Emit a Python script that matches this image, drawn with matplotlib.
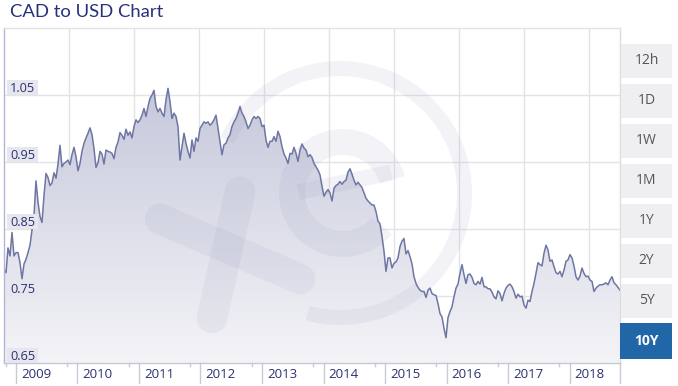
import matplotlib
matplotlib.use("Agg")
import matplotlib.pyplot as plt
import matplotlib.dates as mdates
import matplotlib.transforms as mtransforms
from matplotlib.colors import LinearSegmentedColormap
from matplotlib.lines import Line2D
from matplotlib.patches import Rectangle, Wedge
import numpy as np
import pandas as pd

# CAD -> USD, roughly every 12 days, Oct 2008 .. Oct 2018
start_date = "2008-10-22"
end_date = "2018-10-26"
cad_usd = [
    0.790, 0.785, 0.822, 0.810, 0.845, 0.810, 0.815, 0.815, 0.800, 0.776,
    0.798, 0.805, 0.815, 0.826, 0.849, 0.870, 0.922, 0.890, 0.869, 0.860,
    0.900, 0.933, 0.927, 0.915, 0.919, 0.934, 0.926, 0.947, 0.975, 0.943,
    0.948, 0.950, 0.953, 0.946, 0.961, 0.972, 0.958, 0.937, 0.948, 0.966,
    0.978, 0.986, 0.993, 1.001, 0.991, 0.970, 0.942, 0.949, 0.966, 0.962,
    0.947, 0.968, 0.966, 0.965, 0.963, 0.955, 0.972, 0.980, 0.994, 0.990,
    0.984, 0.999, 0.990, 0.995,
    0.986, 1.003, 1.013, 1.009, 1.013, 1.020, 1.030, 1.018, 1.033, 1.045,
    1.050, 1.057, 1.033, 1.025, 1.030, 1.023, 1.018, 1.043, 1.060, 1.040,
    1.015, 1.023, 1.018, 1.003, 0.953, 0.973, 0.993, 0.978, 0.966, 0.956,
    0.983, 0.966, 0.986, 0.981, 1.000, 1.005, 1.010, 1.008, 1.010, 1.005,
    1.008, 1.013, 1.020, 1.000, 0.981, 0.961, 0.976, 0.978, 0.986, 0.991,
    1.003, 1.010, 1.015, 1.023, 1.033, 1.023, 1.018, 1.010, 1.000, 1.005,
    1.013, 1.018,
    1.015, 1.018, 1.015, 1.003, 1.005, 0.983, 0.972, 0.981, 0.981, 0.988,
    0.981, 0.996, 0.988, 0.973, 0.962, 0.956, 0.948, 0.963, 0.962, 0.972,
    0.963, 0.951, 0.968, 0.977, 0.971, 0.968, 0.958, 0.961, 0.957, 0.948,
    0.943, 0.938, 0.931, 0.914, 0.899, 0.905, 0.909, 0.904, 0.892, 0.911,
    0.915, 0.917, 0.921, 0.917, 0.921, 0.923, 0.935, 0.940, 0.932, 0.923,
    0.916, 0.920, 0.916, 0.912, 0.904, 0.896, 0.892, 0.889, 0.886, 0.886,
    0.876, 0.862, 0.858,
    0.839, 0.817, 0.787, 0.807, 0.807, 0.792, 0.799, 0.801, 0.807, 0.824,
    0.832, 0.836, 0.813, 0.818, 0.809, 0.798, 0.779, 0.769, 0.763, 0.759,
    0.757, 0.757, 0.748, 0.759, 0.762, 0.754, 0.752, 0.751, 0.739, 0.724,
    0.719, 0.702, 0.688, 0.718, 0.727, 0.734, 0.749, 0.762, 0.768, 0.784,
    0.797, 0.782, 0.769, 0.782, 0.783, 0.778, 0.769, 0.767, 0.772, 0.768,
    0.778, 0.764, 0.764, 0.761, 0.761, 0.756, 0.749, 0.746, 0.758, 0.754,
    0.743, 0.754,
    0.762, 0.766, 0.768, 0.764, 0.757, 0.747, 0.753, 0.749, 0.750, 0.737,
    0.732, 0.744, 0.742, 0.757, 0.769, 0.784, 0.800, 0.797, 0.795, 0.814,
    0.826, 0.819, 0.802, 0.804, 0.794, 0.785, 0.783, 0.787, 0.779, 0.789,
    0.802, 0.804, 0.812, 0.807, 0.795, 0.779, 0.774, 0.780, 0.792, 0.784,
    0.779, 0.780, 0.774, 0.772, 0.757, 0.762, 0.765, 0.767, 0.767, 0.768,
    0.770, 0.767, 0.774, 0.779, 0.770, 0.767, 0.763, 0.759,
]
years = list(range(2009, 2019))
y_ticks = [0.65, 0.75, 0.85, 0.95, 1.05]
y_min, y_max = 0.65, 1.15
ranges = ["12h", "1D", "1W", "1M", "1Y", "2Y", "5Y", "10Y"]
active_range = "10Y"

W, H = 678, 386
LABEL_FONT = "Open Sans"
NAVY = "#2c3170"

dates = pd.date_range(start_date, end_date, periods=len(cad_usd))
x0, x1 = mdates.date2num(dates[0]), mdates.date2num(dates[-1])

fig = plt.figure(figsize=(W / 100, H / 100), dpi=100)
fig.patch.set_facecolor("white")
# pixel coords, origin top-left
pix = mtransforms.Affine2D().scale(1 / W, -1 / H).translate(0, 1) + fig.transFigure

ax_left, ax_right, ax_top, ax_bottom = 4, 620, 28, 363.2
ax = fig.add_axes([ax_left / W, (H - ax_bottom) / H,
                   (ax_right - ax_left) / W, (ax_bottom - ax_top) / H])
ax_w = ax_right - ax_left
ax_h = ax_bottom - ax_top
px_per_unit = ax_h / (y_max - y_min)

ax.set_facecolor("white")
ax.set_xticks([])
ax.set_yticks([])
for side, col in [("left", "#b3b6d3"), ("bottom", "#c5c7d9"),
                  ("top", "#e3e3e6"), ("right", "#dcdce0")]:
    ax.spines[side].set_color(col)
    ax.spines[side].set_linewidth(1)

# grid
for v in y_ticks[1:]:
    ax.axhline(v, color="#e3e3e6", lw=1, zorder=0.5)
grid_step = (x1 - x0) * 65 / ax_w
for k in range(1, 10):
    ax.axvline(x0 + k * grid_step, color="#e3e3e6", lw=1, zorder=0.5)

# gradient area
cmap = LinearSegmentedColormap.from_list("area", ["#f4f4f7", "#c1c4d9"])
grad = np.linspace(0, 1, 256).reshape(-1, 1)
im = ax.imshow(grad, extent=[x0, x1, y_min, 1.10], origin="lower",
               aspect="auto", cmap=cmap, zorder=1)
poly = ax.fill_between(dates, cad_usd, y_min, facecolor="none",
                       edgecolor="none")
im.set_clip_path(poly.get_paths()[0], transform=ax.transData)

# faint watermark logo
wm = dict(facecolor="#8e93b5", edgecolor="none", alpha=0.10, zorder=1.5)
pix_up = mtransforms.Affine2D().scale(1 / W, 1 / H) + fig.transFigure
ax.add_artist(Wedge((340, H - 193), 132, -105, 155, width=15,
                    transform=pix_up, **wm))
ax.add_artist(Wedge((343, H - 193), 64, 15, 320, width=26,
                    transform=pix_up, **wm))
ax.add_artist(Rectangle((300, H - 200), 95, 16, angle=12,
                        transform=pix_up, **wm))
for (xa, ya), (xb, yb) in [((160, 219), (300, 279)), ((240, 192), (212, 318))]:
    ax.add_artist(Line2D([xa, xb], [H - ya, H - yb], lw=22, color="#8e93b5",
                         alpha=0.10, solid_capstyle="round",
                         transform=pix_up, zorder=1.5))

ax.plot(dates, cad_usd, color="#6e76a3", lw=1.1, zorder=2)

ax.set_xlim(x0, x1)
ax.set_ylim(y_min, y_max)

# y labels in little boxes
yblend = mtransforms.blended_transform_factory(ax.transAxes, ax.transData)
for v in y_ticks:
    ax.add_artist(Rectangle((3 / ax_w, v), 31 / ax_w, 15 / px_per_unit,
                            transform=yblend, facecolor="#e6e6ef",
                            edgecolor="none", zorder=3))
    ax.text(6 / ax_w, v + 3.4 / px_per_unit, f"{v:.2f}", transform=yblend,
            va="baseline", ha="left", fontsize=9.2, color=NAVY,
            family=LABEL_FONT, zorder=4)

# year ticks and labels
xblend = mtransforms.blended_transform_factory(ax.transData, ax.transAxes)
for yr in years:
    d = mdates.date2num(pd.Timestamp(f"{yr}-01-01"))
    ax.add_artist(Line2D([d, d], [0, -20 / ax_h], color="#c8cad8", lw=1,
                         transform=xblend, clip_on=False))
    ds = d - 62
    if ds > x0:
        ax.add_artist(Line2D([ds, ds], [0, -3 / ax_h], color="#c8cad8", lw=1,
                             transform=xblend, clip_on=False))
    ax.annotate(str(yr), xy=(d, 0), xycoords=xblend,
                xytext=(3.6, -14.5 * 0.72), textcoords="offset points",
                va="baseline", ha="left", fontsize=9.5, color=NAVY,
                family=LABEL_FONT, annotation_clip=False)
ax.add_artist(Line2D([1, 1], [0, -20 / ax_h], color="#c8cad8", lw=1,
                     transform=ax.transAxes, clip_on=False))

# title
fig.text(10, 16.7, "CAD to USD Chart", transform=pix, fontsize=13.3,
         color="#28307d", family="Lato", va="baseline", ha="left")

# range buttons
for i, label in enumerate(ranges):
    top = 44 + 40 * i
    active = label == active_range
    if active:
        rect = Rectangle((620, top - 1.3), 52, 36.6, transform=pix,
                         facecolor="#2166a6", edgecolor="none")
    else:
        rect = Rectangle((621, top), 51, 34, transform=pix,
                         facecolor="#efeff2", edgecolor="none")
    fig.add_artist(rect)
    fig.text(646.5, top + 17, label, transform=pix, ha="center", va="center",
             fontsize=10, family=LABEL_FONT,
             color="white" if active else "#555555",
             fontweight="bold" if active else "normal")

fig.savefig("out.png", dpi=100)
